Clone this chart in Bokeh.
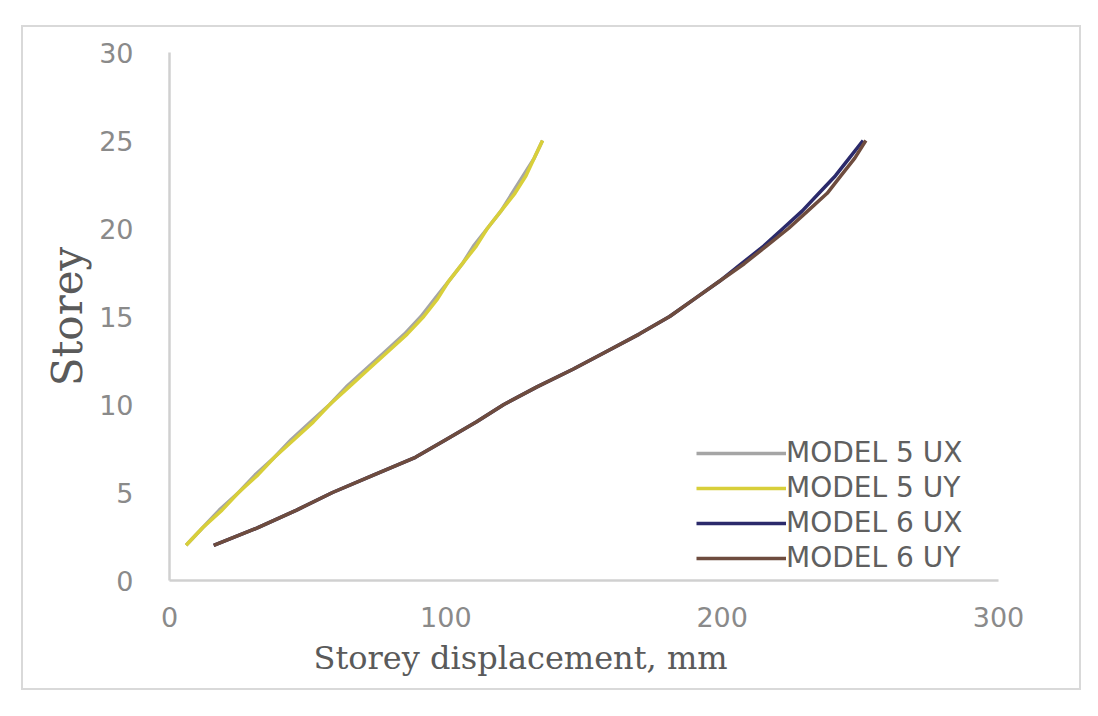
from bokeh.plotting import figure
from bokeh.models import Range1d, FixedTicker, Legend, LegendItem, Title
from bokeh.embed import file_html
from bokeh.resources import INLINE

storey = [2, 3, 4, 5, 6, 7, 8, 9, 10, 11, 12, 13, 14, 15, 16, 17, 18, 19, 20, 21, 22, 23, 24, 25]
model5_ux = [6, 12, 18, 25, 31, 38, 44, 51, 58, 64, 71, 78, 85, 91, 96, 101, 106, 110, 115, 120, 124, 128, 132, 135]
model5_uy = [6, 12, 19, 25, 32, 38, 45, 52, 58, 65, 72, 79, 86, 92, 97, 101, 106, 111, 115, 120, 125, 129, 132, 135]
model6_ux = [16, 32, 46, 59, 74, 89, 100, 111, 121, 133, 146, 158, 170, 181, 190, 199, 207, 215, 222, 229, 235, 241, 246, 251]
model6_uy = [16, 32, 46, 59, 74, 89, 100, 111, 121, 133, 146, 158, 170, 181, 190, 199, 208, 216, 224, 231, 238, 243, 248, 252]

x_ticks = [0, 100, 200, 300]
y_ticks = [0, 5, 10, 15, 20, 25, 30]
x_title = "Storey displacement, mm"
y_title = "Storey"

p = figure(width=1060, height=665, output_backend="svg", toolbar_location=None,
           x_range=Range1d(0, 300), y_range=Range1d(0, 30),
           min_border_left=146, min_border_right=85, min_border_top=25, min_border_bottom=112,
           margin=(25, 0, 0, 21), styles={"border": "2px solid #d9d9d9"})
p.outline_line_color = None
p.xgrid.visible = False
p.ygrid.visible = False

for ax in (p.xaxis[0], p.yaxis[0]):
    ax.axis_line_color = "#d0d0d0"
    ax.axis_line_width = 2.5
    ax.major_tick_line_color = None
    ax.minor_tick_line_color = None
    ax.major_label_text_color = "#8a8a8a"
    ax.major_label_text_font = "DejaVu Sans"
    ax.major_label_text_font_size = "27px"
    ax.axis_label_text_color = "#5a5a5a"
    ax.axis_label_text_font = "DejaVu Serif"
    ax.axis_label_text_font_style = "normal"

p.xaxis.ticker = FixedTicker(ticks=x_ticks)
p.yaxis.ticker = FixedTicker(ticks=y_ticks)
p.xaxis.major_label_standoff = 20
p.yaxis.major_label_standoff = 30
p.yaxis.axis_label = y_title
p.yaxis.axis_label_text_font_size = "42px"
p.yaxis.axis_label_standoff = 4

# x-axis title sits left of the frame centre, as in the original
p.add_layout(Title(text=x_title, align="left", offset=144, standoff=14,
                   text_font="DejaVu Serif", text_font_size="32px",
                   text_font_style="normal", text_color="#5a5a5a"), "below")

lw = 3.5
r1 = p.line(model5_ux, storey, line_color="#a5a5a5", line_width=lw)
r2 = p.line(model5_uy, storey, line_color="#d8cf3a", line_width=lw)
r3 = p.line(model6_ux, storey, line_color="#2b2a6b", line_width=lw)
r4 = p.line(model6_uy, storey, line_color="#6e4c3e", line_width=lw)

legend = Legend(items=[
    LegendItem(label="MODEL 5 UX", renderers=[r1]),
    LegendItem(label="MODEL 5 UY", renderers=[r2]),
    LegendItem(label="MODEL 6 UX", renderers=[r3]),
    LegendItem(label="MODEL 6 UY", renderers=[r4]),
], location=(527, 6))
legend.border_line_color = None
legend.background_fill_alpha = 0
legend.padding = 0
legend.margin = 0
legend.spacing = 2
legend.glyph_width = 90
legend.glyph_height = 30
legend.label_height = 30
legend.label_standoff = 0
legend.label_text_font = "DejaVu Sans"
legend.label_text_font_size = "28px"
legend.label_text_color = "#606060"
p.add_layout(legend)

open("out.html", "w").write(file_html(p, INLINE))
